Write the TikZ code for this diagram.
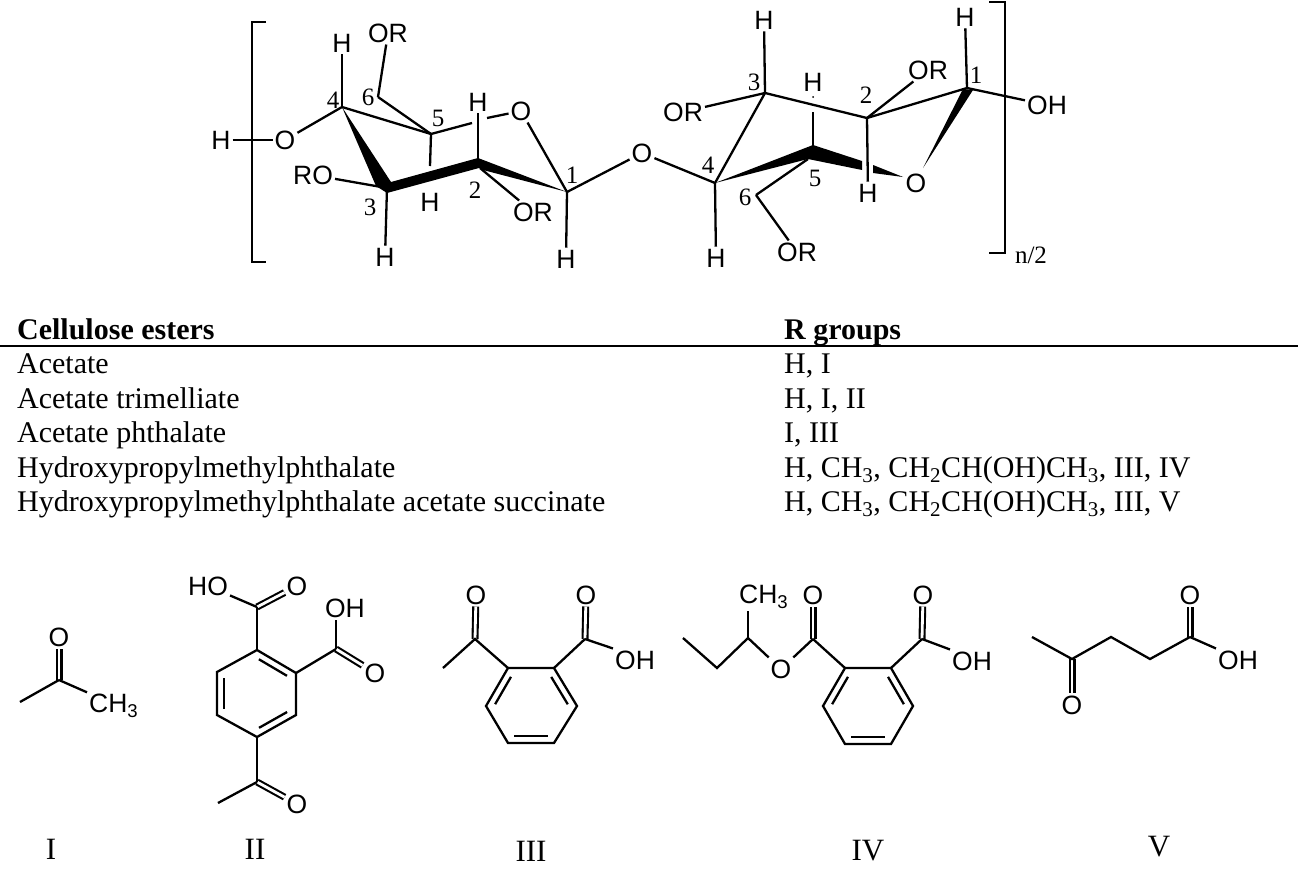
\documentclass[tikz,border=0pt]{standalone}
\usepackage{fontspec}
\setmainfont{Liberation Serif}
\setsansfont{Liberation Sans}
\usetikzlibrary{calc}
\tikzset{
  bond/.style={line width=2.3pt},
  dbl/.style={line width=2.1pt,double,double distance=2.8pt},
  atom/.style={font=\sffamily\fontsize{26.5}{28}\selectfont,inner sep=1pt},
  num/.style={font=\fontsize{25}{27}\selectfont,inner sep=0pt},
  cell/.style={font=\fontsize{30}{32}\selectfont,anchor=base west,inner sep=0pt},
  tag/.style={font=\fontsize{31}{33}\selectfont,inner sep=0pt},
}
\newcommand{\ringdbl}[2]{\draw[bond] ($(#1)!.14!(#2)!7pt!90:(#2)$) -- ($(#2)!.14!(#1)!7pt!-90:(#1)$);}
\begin{document}
\begin{tikzpicture}[x=1pt,y=-1pt,bond]
\useasboundingbox (0,0) rectangle (1298,870);
    % left ring
    \draw (266,22) -| (252,262) -- (266,262);
    \coordinate (c1a) at (567,192);
    \coordinate (c2a) at (478,160);
    \coordinate (c3a) at (387,188);
    \coordinate (c4a) at (342,107);
    \coordinate (c5a) at (431,134);
    \coordinate (c6a) at (378,97);
    \coordinate (gapa) at (472,123);
    \coordinate (gapb) at (487,118);
    \coordinate (c5d) at (430,166);
    \coordinate (c2o) at (480,168);
    \fill (342,107) -- (391,182) -- (478,158) -- (567,192) -- (483,170) -- (479,168) -- (387,193) -- (376,186) -- cycle;
    \node[atom] (hlink) at (221,140) {H};
    \node[atom] (olink) at (285,140) {O};
    \node[atom] (h4a) at (342,43) {H};
    \node[atom] (or6a) at (388,33) {OR};
    \node[atom] (h2a) at (478,102) {H};
    \node[atom] (oa) at (521,111) {O};
    \node[atom] (ro3a) at (313,175) {RO};
    \node[atom] (h5a) at (430,202) {H};
    \node[atom] (h3a) at (385,257) {H};
    \node[atom] (or2a) at (533,212) {OR};
    \node[atom] (h1a) at (566,259) {H};
    \node[num] (n1a) at (572,175) {1};
    \node[num] (n2a) at (475,190) {2};
    \node[num] (n3a) at (370,207) {3};
    \node[num] (n4a) at (333,100) {4};
    \node[num] (n5a) at (438,118) {5};
    \node[num] (n6a) at (368,97) {6};
    \draw (hlink) -- (olink);
    \draw (olink) -- (c4a);
    \draw (c4a) -- (h4a);
    \draw (c4a) -- (c5a);
    \draw (c6a) -- (c5a);
    \draw (c6a) -- (or6a);
    \draw (c5a) -- (gapa);
    \draw (gapb) -- (oa);
    \draw (c2a) -- (h2a);
    \draw (oa) -- (c1a);
    \draw (c1a) -- (h1a);
    \draw (c5a) -- (c5d);
    \draw (ro3a) -- (c3a);
    \draw (c3a) -- (h3a);
    \draw (c2o) -- (or2a);
    %
    % right ring
    \draw (989,2) -| (1005,253) -- (989,253);
    \node[num] (nover2) at (1031,255) {n/2};
    \node[atom] (omid) at (642,153) {O};
    \coordinate (c1b) at (967,88);
    \coordinate (c2b) at (867,118);
    \coordinate (c3b) at (765,93);
    \coordinate (c4b) at (715,183);
    \coordinate (c5b) at (813,146);
    \coordinate (c5c) at (808,159);
    \coordinate (c6b) at (756,195);
    \coordinate (c5u) at (813,112);
    \fill (715,183) -- (813,145) -- (862,161) -- (862,170) -- (808,159) -- cycle;
    \fill (873,165) -- (903,177) -- (873,173) -- cycle;
    \fill (963,89) -- (973,90) -- (923,168) -- cycle;
    \fill (813,97) circle (1pt);
    \node[atom] (h3b) at (764,20) {H};
    \node[atom] (or3b) at (683,112) {OR};
    \node[atom] (h5b) at (813,82) {H};
    \node[atom] (or2b) at (928,70) {OR};
    \node[atom] (h1b) at (965,17) {H};
    \node[atom] (oh1b) at (1047,105) {OH};
    \node[atom] (ob) at (916,183) {O};
    \node[atom] (h2b) at (868,193) {H};
    \node[atom] (h4b) at (716,258) {H};
    \node[atom] (or6b) at (797,252) {OR};
    \node[num] (n1b) at (976,75) {1};
    \node[num] (n2b) at (866,95) {2};
    \node[num] (n3b) at (754,82) {3};
    \node[num] (n4b) at (708,165) {4};
    \node[num] (n5b) at (815,178) {5};
    \node[num] (n6b) at (745,197) {6};
    \draw (c1a) -- (omid);
    \draw (omid) -- (c4b);
    \draw (c4b) -- (c3b);
    \draw (c4b) -- (h4b);
    \draw (c3b) -- (h3b);
    \draw (c3b) -- (or3b);
    \draw (c3b) -- (c2b);
    \draw (c5b) -- (c5u);
    \draw (c2b) -- (or2b);
    \draw (c2b) -- (c1b);
    \draw (c2b) -- (h2b);
    \draw (c1b) -- (h1b);
    \draw (c1b) -- (oh1b);
    \draw (c5c) -- (c6b);
    \draw (c6b) -- (or6b);
    %
    % table
    \draw[line width=1.4pt] (0,346) -- (1298,346);
    \node[cell] (heada) at (16,339) {\bfseries Cellulose esters};
    \node[cell] (headb) at (783,339) {\bfseries R groups};
    \node[cell] (rowa) at (16,373) {Acetate};
    \node[cell] (rowb) at (16,408) {Acetate trimelliate};
    \node[cell] (rowc) at (16,442) {Acetate phthalate};
    \node[cell] (rowd) at (16,477) {Hydroxypropylmethylphthalate};
    \node[cell] (rowe) at (16,511) {Hydroxypropylmethylphthalate acetate succinate};
    \node[cell] (grpa) at (783,373) {H, I};
    \node[cell] (grpb) at (783,408) {H, I, II};
    \node[cell] (grpc) at (783,442) {I, III};
    \node[cell] (grpd) at (783,477) {H, CH\textsubscript{3}, CH\textsubscript{2}CH(OH)CH\textsubscript{3}, III, IV};
    \node[cell] (grpe) at (783,511) {H, CH\textsubscript{3}, CH\textsubscript{2}CH(OH)CH\textsubscript{3}, III, V};
    %
    % group I
    \coordinate (ia) at (59,680);
    \coordinate (ib) at (20,702);
    \node[atom] (io) at (59,637) {O};
    \node[atom,anchor=west] (ime) at (87,706) {CH\textsubscript{3}};
    \draw[dbl] (ia) -- (io);
    \draw (ib) -- (ia);
    \draw (ia) -- (ime.north west);
    \node[tag] (tagi) at (51,849) {I};
    %
    % group II
    \coordinate (iia) at (257,650);
    \coordinate (iib) at (296,673);
    \coordinate (iic) at (296,715);
    \coordinate (iid) at (257,737);
    \coordinate (iie) at (217,715);
    \coordinate (iif) at (217,672);
    \coordinate (iig) at (257,607);
    \coordinate (iih) at (336,649);
    \coordinate (iii) at (257,782);
    \coordinate (iij) at (218,803);
    \node[atom] (iiho) at (208,586) {HO};
    \node[atom] (iio) at (297,586) {O};
    \node[atom] (iioh) at (345,608) {OH};
    \node[atom] (iiob) at (375,673) {O};
    \node[atom] (iioc) at (297,804) {O};
    \draw[dbl] (iig) -- (iio);
    \draw[dbl] (iih) -- (iiob);
    \draw[dbl] (iii) -- (iioc);
    \draw (iia) -- (iib) -- (iic) -- (iid) -- (iie) -- (iif) -- cycle;
    \ringdbl{iib}{iia}
    \ringdbl{iif}{iie}
    \ringdbl{iid}{iic}
    \draw (iig) -- (iia);
    \draw (iiho) -- (iig);
    \draw (iib) -- (iih);
    \draw (iih) -- (iih |- iioh.south);
    \draw (iid) -- (iii);
    \draw (iij) -- (iii);
    \node[tag] (tagii) at (255,849) {II};
    %
    % group III
    \coordinate (iiia) at (508,668);
    \coordinate (iiib) at (554,668);
    \coordinate (iiic) at (577,706);
    \coordinate (iiid) at (554,743);
    \coordinate (iiie) at (508,743);
    \coordinate (iiif) at (486,706);
    \coordinate (iiig) at (475,639);
    \coordinate (iiih) at (443,668);
    \coordinate (iiii) at (585,639);
    \node[atom] (iiio) at (476,595) {O};
    \node[atom] (iiiob) at (586,595) {O};
    \node[atom] (iiioh) at (635,660) {OH};
    \draw[dbl] (iiig) -- (iiio);
    \draw[dbl] (iiii) -- (iiiob);
    \draw (iiia) -- (iiib) -- (iiic) -- (iiid) -- (iiie) -- (iiif) -- cycle;
    \ringdbl{iiia}{iiif}
    \ringdbl{iiic}{iiib}
    \ringdbl{iiie}{iiid}
    \draw (iiih) -- (iiig) -- (iiia);
    \draw (iiib) -- (iiii);
    \draw (iiii) -- (iiioh.north west);
    \node[tag] (tagiii) at (531,851) {III};
    %
    % group IV
    \coordinate (iva) at (845,668);
    \coordinate (ivb) at (891,668);
    \coordinate (ivc) at (913,706);
    \coordinate (ivd) at (891,744);
    \coordinate (ive) at (845,744);
    \coordinate (ivf) at (823,706);
    \coordinate (ivg) at (813,639);
    \coordinate (ivh) at (922,639);
    \coordinate (ivi) at (748,638);
    \coordinate (ivj) at (717,668);
    \coordinate (ivk) at (683,638);
    \node[atom,anchor=west] (ivme) at (737,597) {CH\textsubscript{3}};
    \node[atom] (ivoe) at (781,669) {O};
    \node[atom] (ivo) at (813,595) {O};
    \node[atom] (ivob) at (923,595) {O};
    \node[atom] (ivoh) at (972,661) {OH};
    \draw[dbl] (ivg) -- (ivo);
    \draw[dbl] (ivh) -- (ivob);
    \draw (iva) -- (ivb) -- (ivc) -- (ivd) -- (ive) -- (ivf) -- cycle;
    \ringdbl{iva}{ivf}
    \ringdbl{ivc}{ivb}
    \ringdbl{ive}{ivd}
    \draw (ivk) -- (ivj) -- (ivi);
    \draw (ivi) -- (ivi |- ivme.south);
    \draw (ivi) -- (ivoe);
    \draw (ivoe) -- (ivg);
    \draw (ivg) -- (iva);
    \draw (ivb) -- (ivh);
    \draw (ivh) -- (ivoh.north west);
    \node[tag] (tagiv) at (868,851) {IV};
    %
    % group V
    \coordinate (va) at (1032,637);
    \coordinate (vb) at (1072,659);
    \coordinate (vc) at (1111,637);
    \coordinate (vd) at (1150,659);
    \coordinate (ve) at (1190,637);
    \node[atom] (vo) at (1072,705) {O};
    \node[atom] (vob) at (1190,595) {O};
    \node[atom] (voh) at (1238,660) {OH};
    \draw[dbl] (vb) -- (vo);
    \draw[dbl] (ve) -- (vob);
    \draw (va) -- (vb) -- (vc) -- (vd) -- (ve);
    \draw (ve) -- (voh.north west);
    \node[tag] (tagv) at (1159,847) {V};
\end{tikzpicture}
\end{document}
